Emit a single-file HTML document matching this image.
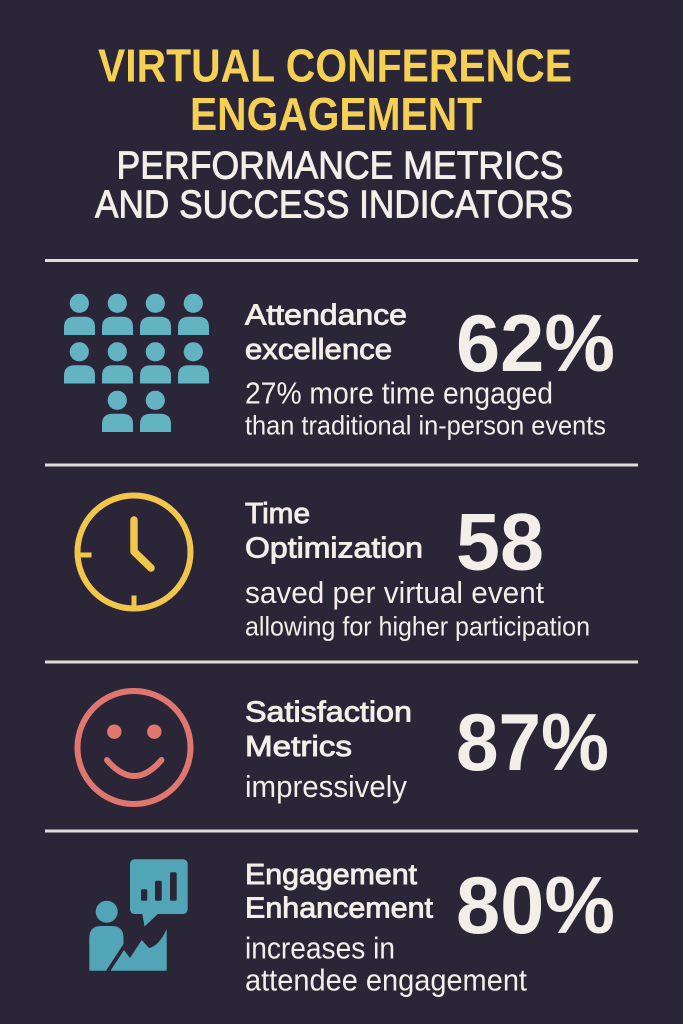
<!DOCTYPE html>
<html><head><meta charset="utf-8"><style>
html,body{margin:0;padding:0;background:#2b2538;}
svg{display:block;}
text{font-family:"Liberation Sans",sans-serif;}
</style></head><body>
<svg width="683" height="1024" viewBox="0 0 683 1024" xmlns="http://www.w3.org/2000/svg">
<rect width="683" height="1024" fill="#2b2538"/>
<!-- Title -->
<g font-weight="bold" fill="#f6cf55" font-size="46.5">
<text x="98" y="81.5" textLength="474" lengthAdjust="spacingAndGlyphs">VIRTUAL CONFERENCE</text>
<text x="190" y="130" textLength="292" lengthAdjust="spacingAndGlyphs">ENGAGEMENT</text>
</g>
<g fill="#f3eee8" stroke="#f3eee8" stroke-width="0.9" font-size="39">
<text x="116.5" y="178.5" textLength="447" lengthAdjust="spacingAndGlyphs">PERFORMANCE METRICS</text>
<text x="95" y="217.5" textLength="478" lengthAdjust="spacingAndGlyphs">AND SUCCESS INDICATORS</text>
</g>
<!-- Dividers -->
<g fill="#e2ddd7">
<rect x="45" y="259" width="593" height="3"/>
<rect x="45" y="463.5" width="593" height="3"/>
<rect x="45" y="660.5" width="593" height="3"/>
<rect x="45" y="829.5" width="593" height="3"/>
</g>
<!-- People icon -->
<g fill="#64b3c3">
<g id="p">
<circle cx="79.3" cy="303.3" r="9.6"/>
<path d="M64 335 V327 Q64 316.7 75 316.7 H84 Q95 316.7 95 327 V335 Z"/>
</g>
<use href="#p" x="38"/><use href="#p" x="76"/><use href="#p" x="114"/>
<use href="#p" y="48.5"/><use href="#p" x="38" y="48.5"/><use href="#p" x="76" y="48.5"/><use href="#p" x="114" y="48.5"/>
<use href="#p" x="38" y="97"/><use href="#p" x="76" y="97"/>
</g>
<!-- Clock -->
<g stroke="#f2c54c" fill="none" stroke-linecap="round">
<circle cx="134" cy="552" r="56.5" stroke-width="6"/>
<path d="M134 520 V551.5 L151 568" stroke-width="7.5" stroke-linejoin="round"/>
<path d="M79 555 H91.5" stroke-width="5" stroke-linecap="butt"/>
<path d="M134 595.5 V608" stroke-width="5" stroke-linecap="butt"/>
</g>
<!-- Smiley -->
<g stroke="#e0776e" fill="none" stroke-linecap="round">
<circle cx="134" cy="747.5" r="56.5" stroke-width="6"/>
<path d="M107 760 Q134 792 161.5 760" stroke-width="6"/>
</g>
<g fill="#e0776e">
<circle cx="114.3" cy="731.7" r="7.2"/>
<circle cx="154.3" cy="731.7" r="7.2"/>
</g>
<!-- Engagement icon -->
<g fill="#52a5b6">
<rect x="130" y="859.3" width="57.7" height="54.7" rx="4.5"/>
<path d="M142 912 L160 912 L144.5 926.5 Z"/>
<circle cx="106.7" cy="911.7" r="11"/>
<path d="M89.3 970.7 V938 Q89.3 926 101 926 H112 Q123.5 926 123.5 938 V944 L106 970.7 Z"/>
<path d="M110.5 970.7 L124 950 L130 958 L141.7 940 L149 948 Q159 946 166.7 929 V970.7 Z"/>
</g>
<g fill="#2b2538">
<rect x="141" y="889.3" width="6.3" height="11.4" rx="1.5"/>
<rect x="155" y="880.7" width="6.7" height="20" rx="1.5"/>
<rect x="170" y="872.3" width="6.7" height="28.4" rx="1.5"/>
</g>
<!-- Section texts -->
<g fill="#f3eee8">
<g font-size="29" stroke="#f3eee8" stroke-width="0.9">
<text x="245" y="324.5" textLength="162" lengthAdjust="spacingAndGlyphs">Attendance</text>
<text x="245" y="359" textLength="147" lengthAdjust="spacingAndGlyphs">excellence</text>
<text x="245" y="523" textLength="65" lengthAdjust="spacingAndGlyphs">Time</text>
<text x="245" y="557.5" textLength="178" lengthAdjust="spacingAndGlyphs">Optimization</text>
<text x="245" y="721.5" textLength="167" lengthAdjust="spacingAndGlyphs">Satisfaction</text>
<text x="245" y="756" textLength="107" lengthAdjust="spacingAndGlyphs">Metrics</text>
<text x="245" y="884" textLength="172" lengthAdjust="spacingAndGlyphs">Engagement</text>
<text x="245" y="917.5" textLength="188" lengthAdjust="spacingAndGlyphs">Enhancement</text>
</g>
<g font-weight="bold" font-size="81">
<text x="456" y="371" textLength="159" lengthAdjust="spacingAndGlyphs">62%</text>
<text x="456" y="569.5" textLength="88" lengthAdjust="spacingAndGlyphs">58</text>
<text x="456" y="770" textLength="153" lengthAdjust="spacingAndGlyphs">87%</text>
<text x="456" y="933" textLength="159" lengthAdjust="spacingAndGlyphs">80%</text>
</g>
<g font-size="31">
<text x="245" y="403.5" textLength="308" lengthAdjust="spacingAndGlyphs">27% more time engaged</text>
<text x="245" y="603" textLength="299" lengthAdjust="spacingAndGlyphs">saved per virtual event</text>
<text x="245" y="797" textLength="162" lengthAdjust="spacingAndGlyphs">impressively</text>
<text x="245" y="958.5" textLength="150" lengthAdjust="spacingAndGlyphs">increases in</text>
<text x="245" y="990.5" textLength="282" lengthAdjust="spacingAndGlyphs">attendee engagement</text>
</g>
<g font-size="27">
<text x="245" y="434.5" textLength="361" lengthAdjust="spacingAndGlyphs">than traditional in-person events</text>
<text x="245" y="635.5" textLength="345" lengthAdjust="spacingAndGlyphs">allowing for higher participation</text>
</g>
</g>
</svg>
</body></html>
